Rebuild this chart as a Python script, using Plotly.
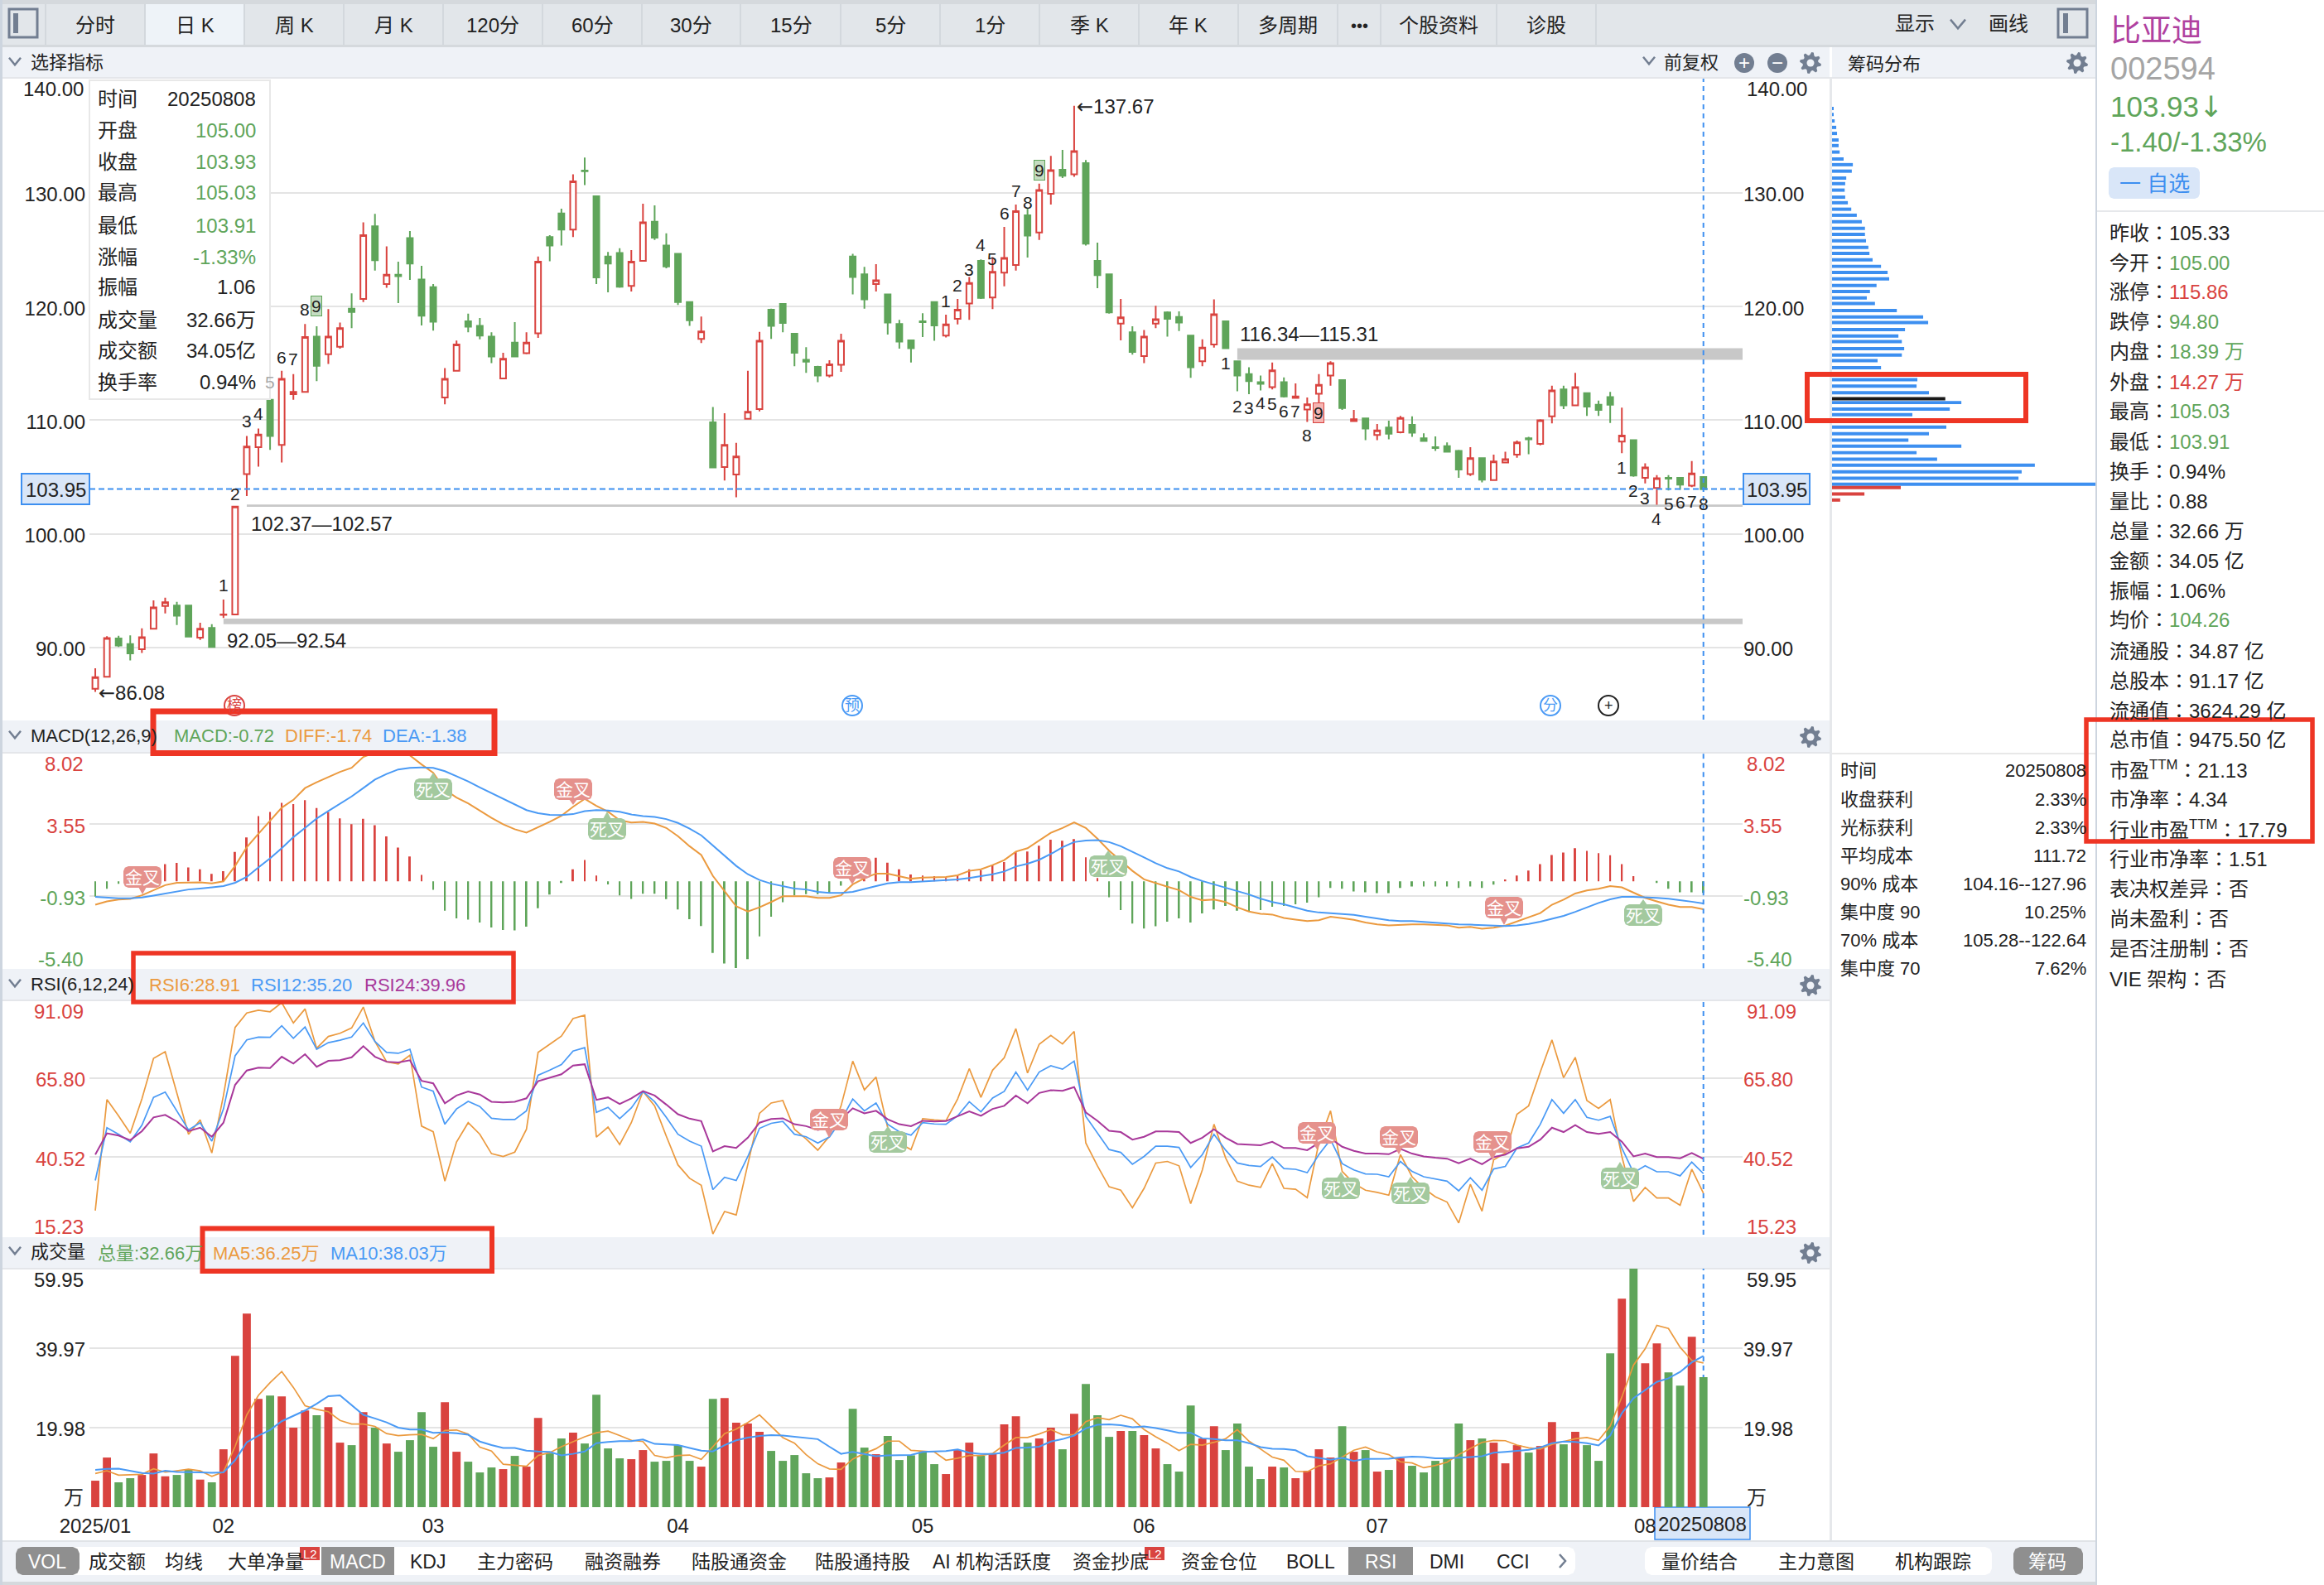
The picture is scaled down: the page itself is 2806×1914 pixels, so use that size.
"""BYD (002594) daily K-line terminal view rebuilt with plotly."""
import math

import plotly.graph_objects as go

W, H = 2806, 1914
FONT = "Liberation Sans, Noto Sans CJK SC"
FONT_TC = "Liberation Sans, Noto Sans CJK TC"

# candles, one per trading day
opens = [86.36, 87.42, 90.78, 90.29, 89.84, 91.64, 93.64, 93.68, 93.68, 90.86,
         91.72, 92.86, 92.9, 105.25, 107.63, 111.8, 107.83, 112.29, 112.49, 117.36,
         115.81, 116.46, 119.82, 120.67, 127.06, 121.98, 122.8, 126.03, 122.39, 121.7,
         112, 114.34, 118.71, 118.3, 117.36, 113.68, 116.83, 115.89, 117.65, 126.11,
         128.2, 126.77, 131.96, 129.71, 124.4, 124.72, 121.82, 124.03, 127.46, 125.38,
         124.64, 120.39, 117.16, 109.8, 105.87, 105.21, 110.12, 110.98, 119.73, 120.23,
         117.61, 115.32, 114.7, 113.93, 114.87, 124.4, 122.84, 121.98, 121.08, 118.47,
         117.03, 118.71, 120.39, 117.44, 118.92, 120.27, 124.03, 120.8, 122.99, 123.66,
         128.04, 126.52, 129.92, 132.04, 131.64, 132.62, 124.03, 122.84, 118.51, 117.73,
         115.64, 118.51, 119.49, 119.08, 117.44, 115.19, 116.67, 118.71, 115.19, 114.05,
         113.35, 112.9, 113.35, 111.96, 110.94, 112.33, 113.93, 113.52, 109.92, 110.16,
         108.69, 109.35, 108.94, 109.59, 108.4, 107.63, 107.71, 107.3, 105.25, 106.65,
         104.72, 106.28, 106.97, 108.4, 107.91, 110.33, 112.7, 111.31, 112.37, 111.35,
         112.04, 108.12, 108.24, 104.93, 104.03, 104.93, 104.93, 104.23, 105.0]
closes = [87.38, 90.82, 90.16, 89.47, 90.9, 93.52, 93.97, 92.78, 90.94, 91.64,
          90.04, 92.9, 102.39, 107.67, 108.73, 108.61, 113.64, 112.49, 117.32, 114.79,
          117.36, 118.1, 119.53, 126.28, 124.07, 122.8, 122.68, 123.78, 119.2, 118.67,
          113.64, 116.67, 118.22, 117.44, 115.6, 115.4, 115.6, 116.83, 123.95, 125.38,
          126.77, 131.02, 131.92, 122.56, 123.78, 121.74, 123.95, 127.42, 126.07, 123.54,
          120.39, 118.79, 117.81, 105.83, 107.83, 106.81, 110.74, 116.99, 118.3, 118.55,
          115.93, 115.15, 113.93, 114.91, 116.99, 122.6, 120.63, 122.31, 118.59, 116.91,
          116.34, 118.63, 118.34, 118.42, 119.73, 122.07, 120.76, 123.05, 124.27, 128.4,
          126.24, 130.25, 132, 131.51, 133.68, 125.54, 122.76, 119.49, 119.04, 116.01,
          117.36, 118.88, 118.92, 118.59, 114.66, 116.38, 119.33, 116.34, 113.93, 113.44,
          113.19, 114.38, 112.09, 112.09, 111.39, 113.1, 115.03, 111.06, 110.08, 109.26,
          109.1, 108.81, 110.2, 108.9, 108.16, 107.55, 107.22, 105.66, 106.65, 104.76,
          106.36, 106.56, 108.04, 108.32, 110, 112.62, 111.31, 112.9, 111.19, 110.9,
          111.35, 108.65, 105.13, 105.83, 104.89, 104.85, 104.32, 105.3, 103.93]
highs = [88.16, 90.98, 91.02, 91.06, 91.68, 94.13, 94.38, 94.01, 93.68, 92.17,
         92.05, 94.21, 102.39, 108.61, 109.26, 111.8, 114.34, 114.05, 118.47, 118.26,
         119.78, 118.59, 121.17, 127.42, 128.16, 125.3, 123.95, 126.65, 123.58, 121.98,
         114.58, 117, 119.37, 119, 117.73, 115.93, 118.63, 117.73, 124.4, 126.28,
         128.61, 131.64, 133.11, 129.71, 124.81, 125.13, 124.97, 129.06, 128.9, 126.44,
         124.64, 120.47, 119.12, 111.15, 110.61, 108, 114.34, 117.77, 119.82, 120.3,
         117.61, 116.42, 114.79, 115.28, 117.61, 124.64, 123.5, 123.74, 121.08, 118.83,
         117.03, 119.41, 120.47, 119.28, 120.67, 122.6, 124.15, 124.36, 127.01, 128.98,
         128.65, 130.82, 133.27, 133.8, 137.67, 132.9, 125.62, 122.92, 120.67, 118.26,
         117.93, 120.06, 119.57, 119.57, 117.44, 117.12, 120.63, 118.71, 115.19, 114.66,
         113.93, 115.07, 113.76, 113.23, 112, 114.05, 115.19, 113.52, 110.9, 110.16,
         109.67, 109.96, 110.37, 110.33, 108.85, 108.57, 108.04, 107.38, 107.63, 106.69,
         106.97, 107.22, 108.2, 108.53, 110.08, 113.03, 113.03, 114.17, 112.37, 111.72,
         112.49, 111.1, 108.24, 106.2, 105.17, 105.17, 104.93, 106.4, 105.03]
lows = [86.08, 87.4, 90.04, 88.85, 89.51, 91.6, 92.99, 91.97, 90.94, 90.65,
        90.04, 92.58, 92.9, 103.33, 105.91, 107.38, 106.28, 111.8, 112.41, 113.44,
        114.95, 116.3, 118.1, 120.39, 123.17, 121.66, 120.31, 122.35, 118.34, 117.89,
        111.39, 114.34, 117.73, 117.12, 115.03, 113.68, 115.6, 115.81, 117.24, 123.99,
        125.38, 126.11, 130.7, 121.98, 121.25, 121.66, 121.33, 124.03, 125.87, 123.37,
        120.14, 118.3, 116.79, 105.83, 104.68, 103.21, 110.04, 110.78, 117.16, 117.73,
        114.74, 114.17, 113.35, 113.76, 114.25, 121.08, 119.82, 121.33, 117.53, 116.3,
        115.07, 117.32, 116.99, 117.28, 118.43, 118.83, 120.67, 119.78, 121.78, 123.17,
        124.31, 125.87, 128.98, 131.31, 131.43, 125.38, 121.62, 119.37, 117.03, 115.77,
        115.03, 118.1, 117.36, 117.85, 113.72, 114.74, 116.38, 116.34, 112.54, 112.29,
        112.62, 112.7, 112, 111.92, 109.84, 110.98, 113.03, 110.9, 109.88, 108.24,
        108.24, 108.32, 108.85, 108.53, 108.12, 107.3, 107.22, 104.93, 105.09, 104.52,
        104.68, 106.28, 106.69, 107.01, 107.79, 109.71, 110.98, 111.27, 110.37, 110.37,
        109.76, 107.1, 105.01, 104.44, 102.56, 103.82, 103.86, 104.11, 103.91]

# volume panel, in 万
volumes = [6.65, 12.47, 6.24, 7.28, 8.1, 13.5, 7.76, 8.1, 9.36, 6.93,
           6.24, 14.55, 38.05, 48.65, 27.2, 28.07, 27.86, 19.96, 24.32, 23.08,
           25.16, 16.22, 15.59, 23.91, 19.96, 16, 13.93, 16.84, 23.91, 15.18,
           26.4, 13.93, 11.43, 8.73, 9.98, 9.56, 12.89, 10.19, 22.45, 13.51,
           17.26, 18.71, 16, 28.27, 14.76, 12.27, 12.06, 14.35, 11.43, 11.64,
           15.59, 11.64, 10.19, 27.23, 27.44, 21.21, 21, 18.92, 14.14, 11.64,
           13.1, 8.52, 7.28, 7.48, 11.23, 24.74, 14.97, 13.31, 17.88, 11.85,
           13.03, 13.86, 10.81, 8.32, 14.35, 16.22, 12.96, 13.51, 20.79, 22.87,
           16.22, 17.26, 19.96, 14.55, 23.49, 30.98, 23.08, 17.67, 19.13, 19.13,
           18.09, 14.76, 10.81, 8.94, 25.57, 17.26, 20.37, 14.35, 21, 10.19,
           7.07, 10.19, 9.98, 7.28, 9.15, 14.55, 12.47, 20.37, 13.93, 14.35,
           8.94, 9.36, 12.27, 10.4, 8.73, 11.64, 12.13, 21, 16.84, 17.26,
           16.22, 11.02, 15.59, 13.72, 15.38, 21.41, 15.8, 18.92, 15.59, 11.64,
           38.67, 52.39, 59.95, 36.17, 41.16, 33.89, 30.56, 42.83, 32.66]
vol_ma5 = [8.45, 9.15, 8.04, 8.18, 8.25, 9.63, 8.8, 9.15, 9.56, 9.15,
           7.76, 8.87, 15.25, 23.2, 28.1, 31.3, 34.1, 30.1, 25.5, 24.6,
           24.0, 21.8, 20.9, 20.9, 20.3, 18.5, 18.0, 18.2, 18.3, 17.2,
           19.3, 19.4, 18.4, 15.1, 14.1, 10.8, 10.5, 10.3, 13.0, 13.7,
           15.2, 16.5, 17.7, 18.7, 19.1, 18.0, 16.8, 16.5, 13.0, 12.4,
           13.0, 13.1, 12.0, 15.2, 18.5, 19.6, 21.3, 23.2, 20.4, 17.5,
           16.1, 13.2, 10.9, 9.6, 9.5, 12.1, 13.5, 14.7, 16.6, 16.6,
           14.3, 14.1, 13.9, 11.8, 12.3, 13.0, 13.0, 13.5, 15.6, 17.5,
           17.5, 18.4, 19.5, 18.2, 18.2, 21.5, 22.5, 22.0, 23.1, 22.2,
           19.5, 17.7, 16.1, 14.2, 15.8, 15.6, 16.3, 17.2, 19.5, 16.6,
           14.6, 12.6, 11.8, 9.0, 8.9, 10.4, 10.9, 12.6, 14.3, 15.1,
           13.9, 13.2, 11.4, 11.1, 9.9, 10.5, 11.3, 13.2, 14.7, 16.3,
           16.8, 16.7, 15.6, 14.9, 14.6, 15.8, 16.5, 17.2, 17.5, 16.8,
           20.4, 27.7, 35.7, 39.8, 45.7, 44.9, 40.2, 36.9, 36.25]
vol_ma10 = [9.36, 9.63, 9.7, 9.15, 8.6, 8.45, 9.15, 8.87, 8.73, 8.73,
            8.66, 8.73, 11.8, 16.3, 18.0, 19.4, 21.6, 22.9, 24.3, 26.0,
            27.9, 28.1, 25.6, 23.2, 22.3, 21.3, 20.0, 19.5, 19.5, 18.7,
            18.8, 18.6, 18.2, 16.5, 15.6, 14.9, 14.9, 14.2, 14.0, 13.9,
            13.0, 13.4, 14.0, 16.1, 16.4, 16.6, 16.6, 17.0, 15.9, 15.8,
            15.6, 14.9, 14.2, 14.0, 15.6, 16.8, 17.5, 17.9, 18.1, 18.0,
            17.7, 17.3, 17.1, 15.2, 13.4, 13.9, 13.3, 12.8, 13.0, 13.1,
            13.1, 13.9, 14.0, 14.1, 14.5, 13.7, 13.4, 13.4, 13.7, 14.9,
            15.0, 15.2, 16.5, 17.1, 18.0, 19.8, 20.7, 20.8, 20.6, 20.1,
            20.3, 19.9, 19.3, 18.7, 18.7, 17.3, 17.1, 16.8, 16.8, 16.1,
            15.1, 14.7, 14.6, 14.3, 12.8, 12.3, 11.9, 12.4, 11.6, 12.1,
            12.1, 12.2, 12.5, 12.7, 12.6, 12.3, 12.3, 12.4, 12.6, 12.8,
            13.7, 13.9, 14.1, 14.4, 15.0, 16.1, 16.5, 16.4, 16.1, 15.5,
            18.0, 23.6, 27.4, 29.5, 31.5, 32.4, 34.0, 36.4, 38.03]

# MACD panel
macd_hist = [-0.95, -0.46, -0.15, -0.05, 0.7, 0.9, 1.07, 1.14, 0.86, 0.74,
             0.46, 0.63, 1.83, 2.73, 4.06, 4.31, 4.88, 4.8, 5.05, 4.56,
             4.31, 3.91, 3.55, 3.89, 3.49, 2.8, 2.1, 1.54, 0.4, -0.53,
             -1.83, -2.31, -2.38, -2.57, -2.88, -3.03, -3.05, -2.82, -1.68, -0.82,
             -0.1, 0.74, 1.33, 0.36, -0.2, -0.88, -1.09, -0.78, -0.78, -1.11,
             -1.75, -2.36, -2.78, -4.46, -5.11, -5.4, -4.84, -3.43, -2.21, -1.3,
             -0.88, -0.8, -0.8, -0.74, -0.27, 0.42, 1.26, 1.47, 1.16, 0.74,
             0.42, 0.36, 0.32, 0.21, 0.36, 0.74, 0.69, 0.99, 1.2, 1.83,
             1.85, 2.21, 2.59, 2.52, 2.63, 1.49, 0.21, -0.99, -1.79, -2.63,
             -2.94, -2.8, -2.52, -2.31, -2.57, -2.0, -1.75, -1.54, -1.83, -1.89,
             -1.79, -1.58, -1.54, -1.43, -1.33, -0.99, -0.42, -0.46, -0.63, -0.69,
             -0.74, -0.74, -0.42, -0.32, -0.32, -0.32, -0.32, -0.42, -0.32, -0.42,
             -0.21, 0.11, 0.36, 0.67, 1.07, 1.64, 1.79, 2.06, 1.89, 1.75,
             1.62, 1.07, 0.32, 0.0, -0.1, -0.46, -0.69, -0.69, -0.72]
macd_diff = [-1.46, -1.25, -1.14, -1.10, -0.87, -0.57, -0.24, -0.09, -0.09, -0.07,
             -0.13, 0.0, 0.96, 2.12, 2.96, 3.76, 4.58, 5.07, 5.80, 6.16,
             6.50, 6.81, 7.06, 7.74, 8.01, 8.07, 8.07, 7.84, 7.27, 6.75,
             5.70, 5.21, 4.85, 4.39, 3.95, 3.55, 3.24, 3.03, 3.36, 3.70,
             4.08, 4.64, 5.13, 4.69, 4.33, 3.80, 3.66, 3.70, 3.59, 3.32,
             2.81, 2.18, 1.64, 0.33, -0.61, -1.56, -1.88, -1.62, -1.29, -0.93,
             -0.93, -0.93, -1.03, -1.03, -0.87, -0.19, 0.19, 0.48, 0.48, 0.31,
             0.16, 0.23, 0.25, 0.27, 0.37, 0.65, 0.75, 1.01, 1.32, 1.85,
             2.06, 2.54, 3.02, 3.32, 3.66, 3.32, 2.65, 1.91, 1.28, 0.65,
             0.12, -0.13, -0.34, -0.55, -0.97, -1.18, -1.14, -1.29, -1.62, -1.88,
             -2.02, -2.07, -2.28, -2.38, -2.47, -2.42, -2.21, -2.30, -2.40, -2.57,
             -2.68, -2.74, -2.70, -2.68, -2.68, -2.72, -2.74, -2.89, -2.84, -2.95,
             -2.89, -2.76, -2.51, -2.25, -1.98, -1.46, -1.14, -0.76, -0.57, -0.47,
             -0.30, -0.38, -0.72, -1.03, -1.25, -1.46, -1.60, -1.60, -1.74]
macd_dea = [-0.97, -1.03, -1.06, -1.06, -1.01, -0.89, -0.76, -0.66, -0.51, -0.45,
            -0.36, -0.30, -0.09, 0.27, 0.86, 1.43, 2.06, 2.75, 3.32, 3.91,
            4.37, 4.81, 5.28, 5.80, 6.33, 6.68, 6.96, 7.06, 7.09, 7.06,
            6.85, 6.54, 6.22, 5.84, 5.49, 5.13, 4.75, 4.43, 4.24, 4.14,
            4.12, 4.18, 4.37, 4.43, 4.41, 4.33, 4.16, 4.06, 4.01, 3.87,
            3.63, 3.28, 2.86, 2.23, 1.59, 0.96, 0.44, 0.08, -0.15, -0.30,
            -0.45, -0.51, -0.66, -0.72, -0.72, -0.66, -0.47, -0.30, -0.13, -0.05,
            -0.05, 0.0, 0.04, 0.08, 0.12, 0.21, 0.33, 0.44, 0.61, 0.92,
            1.09, 1.34, 1.70, 2.12, 2.44, 2.54, 2.56, 2.44, 2.18, 1.85,
            1.49, 1.13, 0.82, 0.61, 0.27, 0.02, -0.19, -0.40, -0.61, -0.82,
            -1.08, -1.29, -1.43, -1.62, -1.83, -1.94, -1.98, -2.02, -2.09, -2.21,
            -2.32, -2.42, -2.47, -2.47, -2.53, -2.59, -2.63, -2.68, -2.70, -2.72,
            -2.76, -2.78, -2.74, -2.65, -2.51, -2.34, -2.15, -1.90, -1.62, -1.35,
            -1.12, -0.97, -0.97, -0.99, -1.03, -1.08, -1.16, -1.27, -1.38]

# RSI panel
rsi6 = [23.4, 58.9, 53.7, 48.1, 59.1, 72.1, 74.2, 61.3, 47.8, 52.4,
        41.8, 60.2, 82.0, 86.6, 87.5, 87.0, 89.9, 83.4, 87.9, 75.3,
        79.1, 80.1, 81.8, 88.5, 77.5, 71.0, 70.3, 73.1, 50.4, 48.6,
        32.8, 45.3, 51.5, 47.8, 41.6, 40.7, 42.1, 49.4, 74.0, 76.6,
        79.2, 84.8, 85.9, 46.9, 50.1, 44.5, 51.5, 61.5, 56.9, 47.2,
        38.0, 33.7, 31.5, 15.9, 23.1, 22.0, 38.6, 54.5, 57.8, 58.6,
        49.4, 46.3, 42.7, 47.2, 56.9, 71.2, 62.0, 66.1, 49.9, 45.0,
        42.9, 52.8, 52.4, 52.1, 59.1, 68.8, 59.6, 68.3, 72.3, 81.6,
        67.4, 76.6, 79.4, 76.7, 80.7, 45.0, 37.7, 31.0, 29.9, 24.3,
        30.5, 38.6, 39.1, 37.7, 25.6, 36.4, 51.0, 40.2, 32.8, 31.5,
        30.8, 38.4, 30.5, 30.2, 27.5, 45.0, 55.3, 35.9, 32.1, 29.9,
        29.2, 28.3, 41.3, 34.2, 30.5, 27.8, 26.1, 19.4, 31.8, 23.2,
        39.6, 41.8, 54.2, 56.9, 67.7, 78.0, 65.9, 72.4, 58.6, 56.1,
        58.9, 40.7, 26.3, 30.8, 27.4, 27.4, 25.1, 36.6, 28.91]
rsi12 = [33.0, 49.9, 47.8, 45.4, 50.7, 59.6, 61.3, 55.3, 49.2, 51.5,
         45.6, 55.9, 72.9, 78.0, 78.9, 78.8, 82.5, 78.5, 82.1, 75.0,
         77.1, 77.9, 78.9, 83.4, 77.5, 74.0, 73.7, 75.0, 62.9, 61.6,
         51.0, 55.9, 58.3, 56.7, 52.9, 52.5, 52.5, 55.3, 66.7, 68.3,
         70.1, 74.4, 75.5, 54.8, 56.4, 52.8, 56.2, 61.5, 58.2, 53.2,
         47.8, 45.6, 44.0, 30.1, 34.0, 33.0, 40.7, 49.7, 51.3, 51.9,
         47.8, 47.0, 45.0, 46.9, 52.3, 59.1, 55.3, 57.8, 51.0, 48.6,
         47.5, 51.5, 51.1, 51.0, 53.7, 58.2, 55.0, 59.4, 61.5, 67.7,
         61.9, 67.7, 69.7, 68.6, 71.2, 53.5, 48.1, 42.9, 42.0, 38.2,
         40.7, 44.0, 44.0, 43.6, 37.2, 41.3, 47.8, 42.7, 38.6, 37.8,
         37.5, 40.5, 36.8, 36.6, 35.5, 41.3, 46.1, 38.4, 36.4, 35.1,
         35.0, 34.2, 39.1, 35.9, 34.2, 33.4, 32.8, 29.7, 33.9, 29.9,
         36.7, 37.5, 43.4, 45.0, 51.0, 58.9, 54.5, 58.9, 53.2, 52.3,
         53.5, 43.4, 35.5, 37.7, 35.8, 35.8, 34.5, 38.9, 35.2]
rsi24 = [41.3, 48.1, 47.4, 45.9, 48.8, 53.2, 54.0, 51.9, 48.8, 49.9,
         47.0, 51.5, 63.6, 68.2, 69.1, 69.0, 72.6, 70.4, 73.4, 69.4,
         71.3, 71.5, 72.4, 76.0, 72.6, 71.0, 70.8, 71.5, 64.9, 64.1,
         57.7, 60.2, 61.5, 60.5, 58.2, 58.0, 58.2, 59.3, 64.8, 65.9,
         67.0, 69.8, 70.2, 58.8, 59.6, 57.5, 59.3, 61.6, 60.2, 57.3,
         54.2, 52.8, 52.0, 42.3, 44.0, 43.4, 46.7, 51.5, 52.7, 52.9,
         51.0, 50.4, 49.2, 49.9, 52.6, 56.1, 54.5, 55.3, 52.6, 51.0,
         50.4, 52.1, 51.9, 52.0, 53.5, 55.1, 53.7, 55.9, 56.9, 60.2,
         57.7, 61.0, 61.9, 61.7, 62.9, 54.8, 52.1, 48.9, 48.5, 46.1,
         47.0, 48.7, 48.7, 48.5, 45.0, 46.7, 49.4, 46.7, 44.7, 44.5,
         44.3, 45.4, 43.4, 43.4, 42.7, 45.0, 46.5, 43.8, 42.5, 41.6,
         41.6, 41.4, 43.1, 41.6, 40.7, 40.3, 40.0, 38.5, 40.0, 38.2,
         40.5, 41.3, 43.3, 43.8, 46.1, 49.9, 48.5, 50.7, 48.5, 47.9,
         48.5, 45.4, 40.7, 41.6, 40.5, 40.5, 40.1, 41.8, 39.96]

# chip distribution: price level and relative share (longest bar = 100)
chip_prices = [137.44, 136.91, 136.34, 135.77, 135.24, 134.66, 134.17, 133.6, 132.99, 132.49,
               131.92, 131.31, 130.82, 130.25, 129.63, 129.14, 128.57, 128.04, 127.46, 126.89,
               126.36, 125.79, 125.21, 124.68, 124.11, 123.54, 123.01, 122.43, 121.86, 121.33,
               120.76, 120.27, 119.65, 119.08, 118.59, 117.98, 117.4, 116.91, 116.3, 115.73,
               115.24, 114.62, 114.05, 113.56, 112.99, 112.41, 111.88, 111.55, 110.98, 110.49,
               109.96, 109.39, 108.81, 108.24, 107.71, 107.14, 106.56, 106.03, 105.46, 104.89,
               104.36, 104.07, 103.5, 102.97]
chip_shares = [0.6, 0.6, 1.0, 1.6, 1.9, 2.5, 2.5, 2.9, 4.4, 7.9,
               7.5, 5.4, 5.0, 4.8, 5.0, 6.0, 7.3, 9.4, 11.3, 12.5,
               12.5, 12.9, 13.8, 14.2, 15.4, 18.6, 21.1, 21.7, 16.9, 14.4,
               13.2, 16.3, 24.6, 34.6, 36.5, 27.7, 25.2, 26.5, 27.4, 26.5,
               17.3, 18.6, 27.6, 32.4, 32.1, 36.8, 43.0, 49.1, 44.7, 30.5,
               33.9, 43.4, 36.8, 29.0, 49.1, 32.1, 39.9, 77.0, 72.0, 70.8,
               100, 26.1, 12.3, 3.1]
chip_kinds = ["up"] * 46 + ["avg"] + ["up"] * 14 + ["down"] * 3

month_ticks = [0, 11, 29, 50, 71, 90, 110, 133]
month_labels = ["2025/01", "02", "03", "04", "05", "06", "07", "08"]

last_price = 103.95
gaps = [(92.05, 92.54, 11), (102.37, 102.57, 13), (115.31, 116.34, 98)]

RED = "#d9433f"
GREEN = "#5fa55a"
ORANGE = "#eb9a3f"
BLUE = "#4a9af5"
PURPLE = "#a8389a"
INK = "#222222"
GRID = "#e4e4e4"
SLATE = "#727e91"
STRIP = "#eff2f7"
HILITE = "#ee3524"
ARROW = '<span style="font-family:DejaVu Sans">{}</span>'

X0, X1 = 108, 2104
idx = list(range(len(closes)))
xrange_ = [-0.5, 141.36]
shapes = []
notes = []


def fx(x):
    return x / W


def fy(y):
    return 1 - y / H


def domain(top, bottom):
    return [fy(bottom), fy(top)]


def rect(x0, y0, x1, y1, fill=None, line=None, lw=0, layer="below"):
    shapes.append(dict(type="rect", xref="paper", yref="paper", x0=fx(x0), x1=fx(x1),
                       y0=fy(y1), y1=fy(y0), fillcolor=fill or "rgba(0,0,0,0)",
                       line=dict(color=line or "rgba(0,0,0,0)", width=lw), layer=layer))


def circle(cx, cy, r, fill=None, line=None, lw=0, layer="above"):
    shapes.append(dict(type="circle", xref="paper", yref="paper", x0=fx(cx - r), x1=fx(cx + r),
                       y0=fy(cy + r), y1=fy(cy - r), fillcolor=fill or "rgba(0,0,0,0)",
                       line=dict(color=line or "rgba(0,0,0,0)", width=lw), layer=layer))


def poly(points, fill=None, line=None, lw=0, layer="above", close=True):
    d = "M" + " L".join(f"{fx(a):.5f},{fy(b):.5f}" for a, b in points) + (" Z" if close else "")
    shapes.append(dict(type="path", path=d, xref="paper", yref="paper",
                       fillcolor=fill or "rgba(0,0,0,0)",
                       line=dict(color=line or "rgba(0,0,0,0)", width=lw), layer=layer))


def pill(x0, y0, x1, y1, fill, r=8, layer="below"):
    pts = [(x0 + r, y0), (x1 - r, y0), (x1 - r * 0.3, y0 + r * 0.3), (x1, y0 + r),
           (x1, y1 - r), (x1 - r * 0.3, y1 - r * 0.3), (x1 - r, y1),
           (x0 + r, y1), (x0 + r * 0.3, y1 - r * 0.3), (x0, y1 - r),
           (x0, y0 + r), (x0 + r * 0.3, y0 + r * 0.3)]
    poly(pts, fill=fill, layer=layer)


def text(x, y, s, size=24, color=INK, anchor="left", font=FONT):
    notes.append(dict(x=fx(x), y=fy(y), xref="paper", yref="paper", text=s, showarrow=False,
                      xanchor=anchor, yanchor="middle", align=anchor, borderpad=0,
                      font=dict(size=size, color=color, family=font)))


def price_note(i, price, s, size=24, xshift=0, anchor="left", **kw):
    notes.append(dict(x=i, y=price, xref="x", yref="y", text=s, showarrow=False, xanchor=anchor,
                      yanchor="middle", xshift=xshift, borderpad=0,
                      font=dict(size=size, color=kw.get("color", INK), family=FONT),
                      bgcolor=kw.get("bg"), bordercolor=kw.get("border"),
                      borderwidth=1 if kw.get("border") else 0))


def chevron(x, y, s=7):
    poly([(x - s, y - s * 0.6), (x, y + s * 0.6), (x + s, y - s * 0.6)], line=SLATE, lw=2.5, close=False)


def gear(x, y):
    # eight-tooth wheel with a hole in the middle
    pts = []
    for k in range(32):
        a = 2 * math.pi * (k + 0.5) / 32
        r = 13 if k % 4 in (0, 1) else 9.5
        pts.append((x + r * math.cos(a), y + r * math.sin(a)))
    poly(pts, fill=SLATE)
    circle(x, y, 4.5, fill=STRIP)


def badge(cx, cy, tip, label):
    fill = "#e5918c" if label == "金叉" else "#a3c99e"
    x0, x1, y0, y1 = cx - 23, cx + 23, cy - 13, cy + 13
    pill(x0, y0, x1, y1, fill, r=6, layer="above")
    if tip > cy:
        poly([(cx - 5, y1 - 1), (cx + 5, y1 - 1), (cx, tip)], fill=fill)
    else:
        poly([(cx - 5, y0 + 1), (cx + 5, y0 + 1), (cx, tip)], fill=fill)
    text(cx, cy, label, size=21, color="white", anchor="center")


def hilite(x0, y0, x1, y1, lw):
    rect(x0, y0, x1, y1, line=HILITE, lw=lw, layer="above")


# ---- app chrome ----
rect(0, 0, 2531, 5, fill="#d5d9dd")
rect(0, 5, 2531, 54, fill="#e2e6ea")
rect(175, 5, 295, 54, fill="#eef3f8")
for sep in [55, 175, 295, 415, 535, 655, 775, 894, 1015, 1135, 1255, 1375, 1495, 1615, 1667, 1807, 1927]:
    rect(sep - 1, 5, sep + 1, 54, fill="#d3d8dd")
rect(0, 54, 2531, 57, fill="#d5d9dd")
tab_names = ["分时", "日 K", "周 K", "月 K", "120分", "60分", "30分", "15分", "5分", "1分",
             "季 K", "年 K", "多周期", "•••", "个股资料", "诊股"]
tab_centers = [115, 235, 355, 475, 595, 715, 835, 955, 1075, 1195, 1315, 1435, 1555, 1641, 1737, 1867]
for name, cx in zip(tab_names, tab_centers):
    text(cx, 31, name, size=20 if name == "•••" else 24, anchor="center")
for ix0, ix1, bar0, bar1 in [(11, 45, 16, 22), (2485, 2520, 2491, 2497)]:
    rect(ix0, 11, ix1, 45, line=SLATE, lw=3)
    rect(bar0, 16, bar1, 40, fill=SLATE)
text(2312, 29, "显示", size=24, anchor="center")
chevron(2364, 29, 9)
text(2425, 29, "画线", size=24, anchor="center")

rect(0, 0, 3, H, fill="#cdd5df")
rect(2530, 0, 2532, H, fill="#cdd5df")
rect(2209, 93, 2212, 1860, fill="#e6e8eb")

strips = [(57, 93), (870, 908), (1170, 1207), (1494, 1531)]
for top, bottom in strips:
    rect(3, top, 2209, bottom, fill=STRIP)
    rect(3, bottom, 2209, bottom + 2, fill="#e4e6ea")
rect(2212, 57, 2530, 93, fill=STRIP)
rect(2212, 93, 2530, 95, fill="#e4e6ea")
rect(2212, 909, 2530, 911, fill="#e8e8e8")

chevron(18, 74)
text(36, 75, "选择指标", size=22)
chevron(1991, 73)
text(2042, 75, "前复权", size=22, anchor="center")
for cx, sign in [(2106, "+"), (2146, "−")]:
    circle(cx, 76, 12, fill=SLATE)
    text(cx, 75, sign, size=24, color="white", anchor="center")
gear(2186, 76)
text(2230, 78, "筹码分布", size=22)
gear(2508, 76)

chevron(18, 887)
text(36, 888, "MACD(12,26,9)", size=22)
text(209, 889, "MACD:-0.72", size=22, color=GREEN)
text(343, 889, "DIFF:-1.74", size=22, color=ORANGE)
text(461, 889, "DEA:-1.38", size=22, color=BLUE)
gear(2186, 890)

chevron(18, 1187)
text(36, 1188, "RSI(6,12,24)", size=22)
text(179, 1189, "RSI6:28.91", size=22, color=ORANGE)
text(302, 1189, "RSI12:35.20", size=22, color=BLUE)
text(439, 1189, "RSI24:39.96", size=22, color=PURPLE)
gear(2186, 1190)

chevron(18, 1510)
text(36, 1511, "成交量", size=22)
text(117, 1513, "总量:32.66万", size=22, color=GREEN)
text(256, 1513, "MA5:36.25万", size=22, color=ORANGE)
text(398, 1513, "MA10:38.03万", size=22, color=BLUE)
gear(2186, 1513)

# bottom indicator switcher
rect(3, 1860, 2530, 1910, fill=STRIP)
rect(3, 1860, 2530, 1862, fill="#e0e3e7")
rect(3, 1910, 2530, 1914, fill="#d5d9dd")
pill(19, 1868, 1902, 1902, "white", r=8)
pill(1986, 1868, 2405, 1902, "white", r=8)
pill(19, 1868, 96, 1902, "#8f8f8f", r=8)
rect(388, 1868, 476, 1902, fill="#8f8f8f")
rect(1628, 1868, 1706, 1902, fill="#8f8f8f")
pill(2431, 1868, 2515, 1902, "#8f8f8f", r=8)
bottom_tabs = [("VOL", 57, "white"), ("成交额", 141, INK), ("均线", 222, INK), ("大单净量", 321, INK),
               ("MACD", 432, "white"), ("KDJ", 516, INK), ("主力密码", 622, INK), ("融资融券", 752, INK),
               ("陆股通资金", 892, INK), ("陆股通持股", 1041, INK), ("AI 机构活跃度", 1197, INK),
               ("资金抄底", 1341, INK), ("资金仓位", 1472, INK), ("BOLL", 1582, INK), ("RSI", 1667, "white"),
               ("DMI", 1747, INK), ("CCI", 1827, INK), ("量价结合", 2052, INK), ("主力意图", 2193, INK),
               ("机构跟踪", 2334, INK), ("筹码", 2472, "white")]
for name, cx, col in bottom_tabs:
    text(cx, 1886, name, size=23, color=col, anchor="center")
poly([(1883, 1877), (1890, 1885), (1883, 1893)], line=SLATE, lw=2.5, close=False)
for bx in [362, 1382]:
    rect(bx, 1868, bx + 24, 1884, fill=RED, layer="above")
    text(bx + 12, 1876, "L2", size=15, color="white", anchor="center")

# ---- right info column ----
text(2547, 34, "比亚迪", size=37, color="#b0419f", font="Noto Sans CJK SC")
text(2547, 83, "002594", size=38, color="#a5a5a5")
text(2547, 129, "103.93" + ARROW.format("↓"), size=35, color=GREEN)
text(2547, 172, "-1.40/-1.33%", size=33, color=GREEN)
pill(2546, 202, 2656, 240, "#d9e6f8", r=6)
text(2601, 222, "一 自选", size=26, color="#3d8ff0", anchor="center")
rect(2532, 254, 2806, 256, fill="#e6e8eb")


def val(s, col):
    return f'<span style="color:{col}">{s}</span>'


quote_rows = [("昨收：105.33", 281), ("今开：" + val("105.00", GREEN), 317), ("涨停：" + val("115.86", RED), 353),
              ("跌停：" + val("94.80", GREEN), 389), ("内盘：" + val("18.39 万", GREEN), 425),
              ("外盘：" + val("14.27 万", RED), 461), ("最高：" + val("105.03", GREEN), 497),
              ("最低：" + val("103.91", GREEN), 533), ("换手：0.94%", 569), ("量比：0.88", 605),
              ("总量：32.66 万", 641), ("金额：34.05 亿", 677), ("振幅：1.06%", 713),
              ("均价：" + val("104.26", GREEN), 749), ("流通股：34.87 亿", 786), ("总股本：91.17 亿", 822),
              ("流通值：3624.29 亿", 858), ("总市值：9475.50 亿", 893), ("市盈<sup>TTM</sup>：21.13", 929),
              ("市净率：4.34", 965), ("行业市盈<sup>TTM</sup>：17.79", 1001), ("行业市净率：1.51", 1037),
              ("表决权差异：否", 1073), ("尚未盈利：否", 1109), ("是否注册制：否", 1145), ("VIE 架构：否", 1182)]
for label, y in quote_rows:
    text(2546, y, label, size=24, font=FONT_TC)

chip_rows = [("时间", "20250808", 931), ("收盘获利", "2.33%", 965), ("光标获利", "2.33%", 999),
             ("平均成本", "111.72", 1033), ("90% 成本", "104.16--127.96", 1067), ("集中度 90", "10.25%", 1101),
             ("70% 成本", "105.28--122.64", 1135), ("集中度 70", "7.62%", 1169)]
for label, value, y in chip_rows:
    text(2221, y, label, size=22)
    text(2520, y, value, size=22, anchor="right")

# ---- main panel overlays ----
for low, high, start in gaps:
    shapes.append(dict(type="rect", xref="x", yref="y", x0=start, x1=xrange_[1], y0=low, y1=high,
                       fillcolor="#c8c8c8", line=dict(width=0), layer="below"))
price_note(11, 90.57, "92.05—92.54", xshift=4)
price_note(13, 100.9, "102.37—102.57", xshift=5)
price_note(98, 117.6, "116.34—115.31", xshift=3)
price_note(84, 137.58, ARROW.format("←") + "137.67", xshift=3)
price_note(0, 85.98, ARROW.format("←") + "86.08", xshift=4)

td_marks = [(11, 95.48, "1"), (12, 103.54, "2"), (13, 109.92, "3"), (14, 110.57, "4"), (16, 115.56, "6"),
            (17, 115.4, "7"), (18, 119.73, "8"),
            (73, 120.51, "1"), (74, 121.9, "2"), (75, 123.29, "3"), (76, 125.42, "4"), (77, 124.23, "5"),
            (78, 128.24, "6"), (79, 130.2, "7"), (80, 129.18, "8"),
            (97, 115.03, "1"), (98, 111.23, "2"), (99, 111.06, "3"), (100, 111.55, "4"), (101, 111.47, "5"),
            (102, 110.82, "6"), (103, 110.82, "7"), (104, 108.65, "8"),
            (131, 105.87, "1"), (132, 103.78, "2"), (133, 103.13, "3"), (134, 101.29, "4"), (135, 102.6, "5"),
            (136, 102.8, "6"), (137, 102.88, "7"), (138, 102.64, "8")]
for i, p, s in td_marks:
    price_note(i, p, s, size=21, anchor="center")
price_note(15, 113.31, "5", size=21, anchor="center", color="#aaaaaa")
price_note(19, 120.06, "9", size=21, anchor="center", bg="#c5dcc2", border=GREEN)
price_note(81, 132.0, "9", size=21, anchor="center", bg="#c5dcc2", border=GREEN)
price_note(105, 110.65, "9", size=21, anchor="center", bg="#f5b5b2", border=RED)

# quote table over the chart
rect(108, 97, 326, 482, fill="white", line="#e8e8e8", lw=2, layer="above")
table_rows = [("时间", "20250808", INK), ("开盘", "105.00", GREEN), ("收盘", "103.93", GREEN), ("最高", "105.03", GREEN),
              ("最低", "103.91", GREEN), ("涨幅", "-1.33%", GREEN), ("振幅", "1.06", INK),
              ("成交量", "32.66万", INK), ("成交额", "34.05亿", INK), ("换手率", "0.94%", INK)]
for (label, value, col), y in zip(table_rows, [120, 158, 195, 233, 272, 310, 347, 386, 424, 461]):
    text(117, y, label, size=24)
    text(310, y, value, size=24, color=col, anchor="right")

# markers along the bottom of the K-line panel
for cx, mark, col in [(283, "榜", RED), (1029, "预", BLUE), (1872, "分", BLUE), (1942, "+", INK)]:
    circle(cx, 852, 12, fill="white", line=col, lw=2)
    text(cx, 852, mark, size=18, color=col, anchor="center")

# last price boxes and date box
rect(26, 572, 108, 609, fill="#d9e6f8", line="#3d8ff0", lw=2, layer="above")
rect(2105, 572, 2185, 609, fill="#d9e6f8", line="#3d8ff0", lw=2, layer="above")
text(67, 591, "103.95", size=24, anchor="center")
text(2145, 591, "103.95", size=24, anchor="center")
rect(1998, 1820, 2113, 1859, fill="#d9e6f8", line="#3d8ff0", lw=1.5)
text(2055, 1840, "20250808", size=24, anchor="center")

# crossover badges
for cx, cy, tip, label in [(172, 1059, 1080, "金叉"), (523, 953, 933, "死叉"), (692, 953, 972, "金叉"),
                           (733, 1001, 980, "死叉"), (1029, 1048, 1068, "金叉"), (1338, 1046, 1027, "死叉"),
                           (1816, 1096, 1117, "金叉"), (1984, 1105, 1086, "死叉"),
                           (1001, 1352, 1374, "金叉"), (1072, 1379, 1360, "死叉"), (1590, 1368, 1388, "金叉"),
                           (1619, 1435, 1415, "死叉"), (1689, 1373, 1394, "金叉"), (1703, 1441, 1421, "死叉"),
                           (1802, 1379, 1401, "金叉"), (1956, 1423, 1403, "死叉")]:
    badge(cx, cy, tip, label)

# clamped axis labels, both sides
for y, s, col in [(108, "140.00", INK), (922, "8.02", RED), (1158, "-5.40", GREEN), (1221, "91.09", RED),
                  (1481, "15.23", RED), (1545, "59.95", INK), (1808, "万", INK)]:
    text(102, y, s, size=24, color=col, anchor="right")
    text(2108, y, s, size=24, color=col)

# crosshair
for ya, layer in [("y", "above"), ("y3", "above"), ("y5", "above"), ("y7", "below")]:
    shapes.append(dict(type="line", xref="x", yref=f"{ya} domain", x0=138, x1=138, y0=0, y1=1,
                       line=dict(color="#3d8ff0", width=2, dash="6px,5px"), layer=layer))

# review highlights
hilite(185, 859, 597, 909.5, 7)
hilite(161, 1151, 620, 1210, 5.5)
hilite(244.5, 1483.5, 594, 1535, 6)
hilite(2182, 452, 2446, 508, 6)
hilite(2519, 869, 2792, 1016, 5.5)

# ---- traces ----
vol_colors = [RED if c >= o else GREEN for o, c in zip(opens, closes)]
hist_colors = [RED if v >= 0 else GREEN for v in macd_hist]
chip_colors = [{"up": "#3d8ff0", "avg": "#1a1a1a", "down": RED}[k] for k in chip_kinds]

fig = go.Figure()
fig.add_trace(go.Candlestick(x=idx, open=opens, high=highs, low=lows, close=closes, xaxis="x", yaxis="y",
                             increasing=dict(line=dict(color=RED, width=2), fillcolor="white"),
                             decreasing=dict(line=dict(color=GREEN, width=2), fillcolor=GREEN),
                             hoverinfo="skip", name="日K"))
fig.add_trace(go.Scatter(x=xrange_, y=[last_price, last_price], mode="lines", xaxis="x", yaxis="y2",
                         line=dict(color="#3d8ff0", width=2, dash="7px,4px"), name="最新价"))
fig.add_trace(go.Bar(x=idx, y=macd_hist, width=0.14, marker=dict(color=hist_colors, line=dict(width=0)),
                     xaxis="x2", yaxis="y3", name="MACD"))
fig.add_trace(go.Scatter(x=idx, y=macd_diff, mode="lines", line=dict(color=ORANGE, width=2),
                         xaxis="x2", yaxis="y3", name="DIFF"))
fig.add_trace(go.Scatter(x=idx, y=macd_dea, mode="lines", line=dict(color=BLUE, width=2),
                         xaxis="x2", yaxis="y4", name="DEA"))
fig.add_trace(go.Scatter(x=idx, y=rsi6, mode="lines", line=dict(color=ORANGE, width=1.7),
                         xaxis="x3", yaxis="y5", name="RSI6"))
fig.add_trace(go.Scatter(x=idx, y=rsi12, mode="lines", line=dict(color=BLUE, width=1.7),
                         xaxis="x3", yaxis="y5", name="RSI12"))
fig.add_trace(go.Scatter(x=idx, y=rsi24, mode="lines", line=dict(color=PURPLE, width=2),
                         xaxis="x3", yaxis="y6", name="RSI24"))
fig.add_trace(go.Bar(x=idx, y=volumes, width=0.7, marker=dict(color=vol_colors, line=dict(width=0)),
                     xaxis="x4", yaxis="y7", name="成交量"))
fig.add_trace(go.Scatter(x=idx, y=vol_ma5, mode="lines", line=dict(color=ORANGE, width=1.7),
                         xaxis="x4", yaxis="y7", name="MA5"))
fig.add_trace(go.Scatter(x=idx, y=vol_ma10, mode="lines", line=dict(color=BLUE, width=2),
                         xaxis="x4", yaxis="y8", name="MA10"))
fig.add_trace(go.Bar(x=chip_shares, y=chip_prices, width=0.29, orientation="h",
                     marker=dict(color=chip_colors, line=dict(width=0)),
                     xaxis="x5", yaxis="y9", name="筹码分布"))


def x_axis(anchor, **kw):
    base = dict(domain=[fx(X0), fx(X1)], range=xrange_, anchor=anchor, showgrid=False, zeroline=False,
                showticklabels=False, ticks="", showline=False, fixedrange=True, automargin=False)
    base.update(kw)
    return base


def y_axis(dom, rng, vals, labels, anchor, right_of=None):
    base = dict(domain=dom, range=rng, anchor=anchor, tickmode="array", tickvals=vals, ticktext=labels,
                zeroline=False, showline=False, ticks="", fixedrange=True, automargin=False,
                ticklabelshift=2, tickfont=dict(size=24, color=INK, family=FONT))
    if right_of:
        base.update(overlaying=right_of, side="right", showgrid=False)
    else:
        base.update(side="left", showgrid=True, gridcolor=GRID, gridwidth=2, ticklabelstandoff=4)
    return base


main_dom = domain(95, 869)
macd_dom = domain(908.8, 1169.2)
rsi_dom = domain(1208, 1491)
vol_dom = domain(1532, 1820)
main_rng = [83.64, 140.06]
macd_rng = [-5.41, 8.01]
rsi_rng = [15.66, 90.64]
vol_rng = [0, 59.95]
main_ticks = [130, 120, 110, 100, 90]
main_labels = ["130.00", "120.00", "110.00", "100.00", "90.00"]
macd_ticks = [3.55, -0.93]
macd_labels = [val("3.55", RED), val("-0.93", GREEN)]
rsi_ticks = [65.80, 40.52]
rsi_labels = [val("65.80", RED), val("40.52", RED)]
vol_ticks = [39.97, 19.98]
vol_labels = ["39.97", "19.98"]

fig.update_layout(
    width=W, height=H, margin=dict(l=0, r=0, t=0, b=0, autoexpand=False), paper_bgcolor="white",
    plot_bgcolor="rgba(0,0,0,0)",
    showlegend=False, hovermode=False, barmode="overlay", boxgap=0.3, dragmode=False,
    font=dict(family=FONT, color=INK),
    xaxis=x_axis("y", rangeslider=dict(visible=False)),
    xaxis2=x_axis("y3"),
    xaxis3=x_axis("y5"),
    xaxis4=x_axis("y7", showticklabels=True, tickmode="array", tickvals=month_ticks, ticktext=month_labels,
                  tickfont=dict(size=24, color=INK, family=FONT), ticks="outside", ticklen=1,
                  tickcolor="rgba(0,0,0,0)"),
    xaxis5=dict(domain=[fx(2212), fx(2530)], range=[0, 100], anchor="y9", showgrid=False, zeroline=False,
                showticklabels=False, ticks="", fixedrange=True, automargin=False),
    yaxis=y_axis(main_dom, main_rng, main_ticks, main_labels, "x"),
    yaxis2=y_axis(main_dom, main_rng, main_ticks, main_labels, "x", right_of="y"),
    yaxis3=y_axis(macd_dom, macd_rng, macd_ticks, macd_labels, "x2"),
    yaxis4=y_axis(macd_dom, macd_rng, macd_ticks, macd_labels, "x2", right_of="y3"),
    yaxis5=y_axis(rsi_dom, rsi_rng, rsi_ticks, rsi_labels, "x3"),
    yaxis6=y_axis(rsi_dom, rsi_rng, rsi_ticks, rsi_labels, "x3", right_of="y5"),
    yaxis7=y_axis(vol_dom, vol_rng, vol_ticks, vol_labels, "x4"),
    yaxis8=y_axis(vol_dom, vol_rng, vol_ticks, vol_labels, "x4", right_of="y7"),
    yaxis9=dict(domain=main_dom, range=main_rng, anchor="x5", showgrid=False, zeroline=False,
                showticklabels=False, ticks="", fixedrange=True, automargin=False),
    shapes=shapes, annotations=notes,
)

fig.write_html("out.html", config=dict(displayModeBar=False),
               post_script="document.body.style.margin='0';document.body.style.overflow='hidden';")
